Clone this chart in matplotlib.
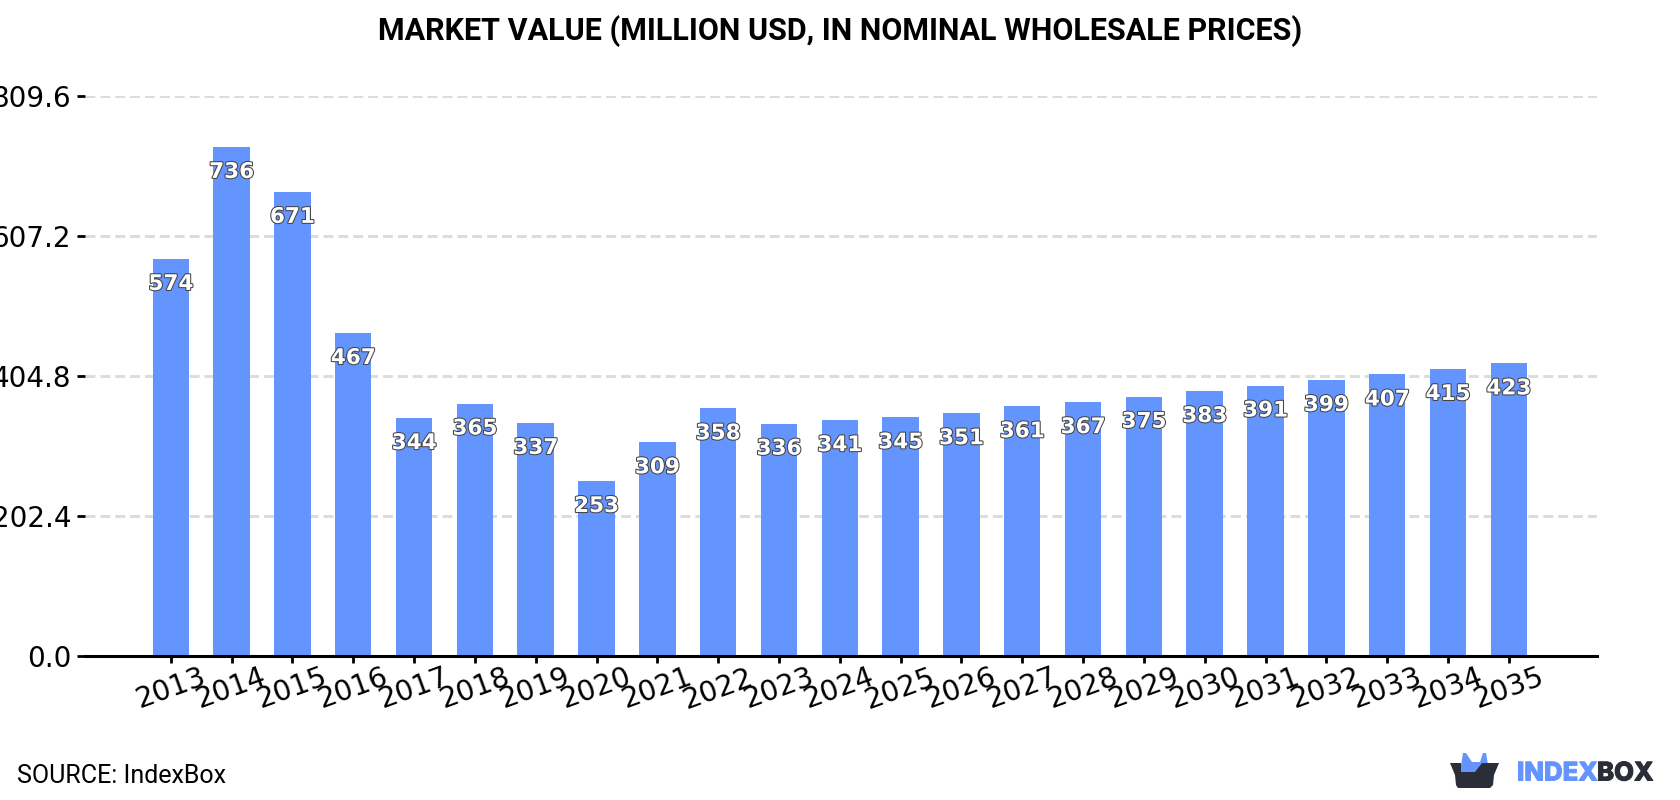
import matplotlib
matplotlib.use('Agg')
import matplotlib.pyplot as plt
import matplotlib.patheffects as pe
from matplotlib.patches import Polygon

years = ['2013', '2014', '2015', '2016', '2017', '2018', '2019', '2020', '2021', '2022', '2023', '2024',
         '2025', '2026', '2027', '2028', '2029', '2030', '2031', '2032', '2033', '2034', '2035']
values = [574, 736, 671, 467, 344, 365, 337, 253, 309, 358, 336, 341,
          345, 351, 361, 367, 375, 383, 391, 399, 407, 415, 423]
yticks = [0.0, 202.4, 404.8, 607.2, 809.6]

BLUE = '#6495ff'
DARK = '#2b2d38'
W, H = 1680, 800

fig = plt.figure(figsize=(16.8, 8), dpi=100)
ax = fig.add_axes([85 / W, 1 - 656 / H, (1597 - 85) / W, (656 - 96) / H])

pos = list(range(len(years)))
ax.bar(pos, values, width=0.6, color=BLUE, zorder=2)
ax.set_xlim(-1.41, 23.45)
ax.set_ylim(0, 809.6)

ax.set_yticks(yticks)
ax.set_yticklabels([f'{t:.1f}' for t in yticks])
ax.set_xticks(pos)
ax.set_xticklabels(years, rotation=20)
ax.tick_params(axis='y', labelsize=20, length=5.5, width=2, pad=4.5)
ax.tick_params(axis='x', labelsize=20.5, length=5, width=2, pad=0)

ax.grid(axis='y', color='#dcdcdc', lw=2.1, ls=(0, (3.4, 1.7)), zorder=1)
ax.set_axisbelow(True)
for side in ['top', 'right', 'left']:
    ax.spines[side].set_visible(False)
ax.spines['bottom'].set_linewidth(2.2)

# value labels sit inside the top of each bar
for x, v in zip(pos, values):
    ax.annotate(str(v), (x, v), xytext=(0, -25), textcoords='offset pixels',
                ha='center', va='center', fontsize=15.5, fontweight='bold', color='white',
                path_effects=[pe.withStroke(linewidth=1.5, foreground='#444444')], zorder=3)

fig.text(840 / W, 1 - 31 / H, 'MARKET VALUE (MILLION USD, IN NOMINAL WHOLESALE PRICES)',
         family='Roboto', fontweight='bold', fontsize=22, ha='center', va='center')
fig.text(17 / W, 1 - 776 / H, 'SOURCE: IndexBox', family='Roboto', fontsize=18, ha='left', va='center')

# logo: basket with blue ears, then the wordmark
def px(points):
    return [(x / W, 1 - y / H) for x, y in points]

fig.add_artist(Polygon(px([(1461, 765), (1463, 753), (1466, 753), (1472, 762), (1480, 762), (1483, 753),
                           (1486, 753), (1488, 765), (1484, 772), (1461, 772)]),
                       closed=True, color=BLUE, transform=fig.transFigure, lw=0))
fig.add_artist(Polygon(px([(1450, 763), (1461, 763), (1461, 772), (1475, 772), (1482, 763), (1499, 763),
                           (1494, 775), (1493, 785), (1490, 788), (1458, 788), (1456, 785), (1455, 775)]),
                       closed=True, color=DARK, transform=fig.transFigure, lw=0))
fig.text(1517 / W, 1 - 774 / H, 'INDEX', family='Inter', fontweight='heavy', fontsize=18.5,
         color=BLUE, ha='left', va='center', path_effects=[pe.withStroke(linewidth=0.7, foreground=BLUE)])
fig.text(1597 / W, 1 - 774 / H, 'BOX', family='Inter', fontweight='heavy', fontsize=18.5,
         color=DARK, ha='left', va='center', path_effects=[pe.withStroke(linewidth=0.7, foreground=DARK)])

fig.savefig('out.png', dpi=100)
